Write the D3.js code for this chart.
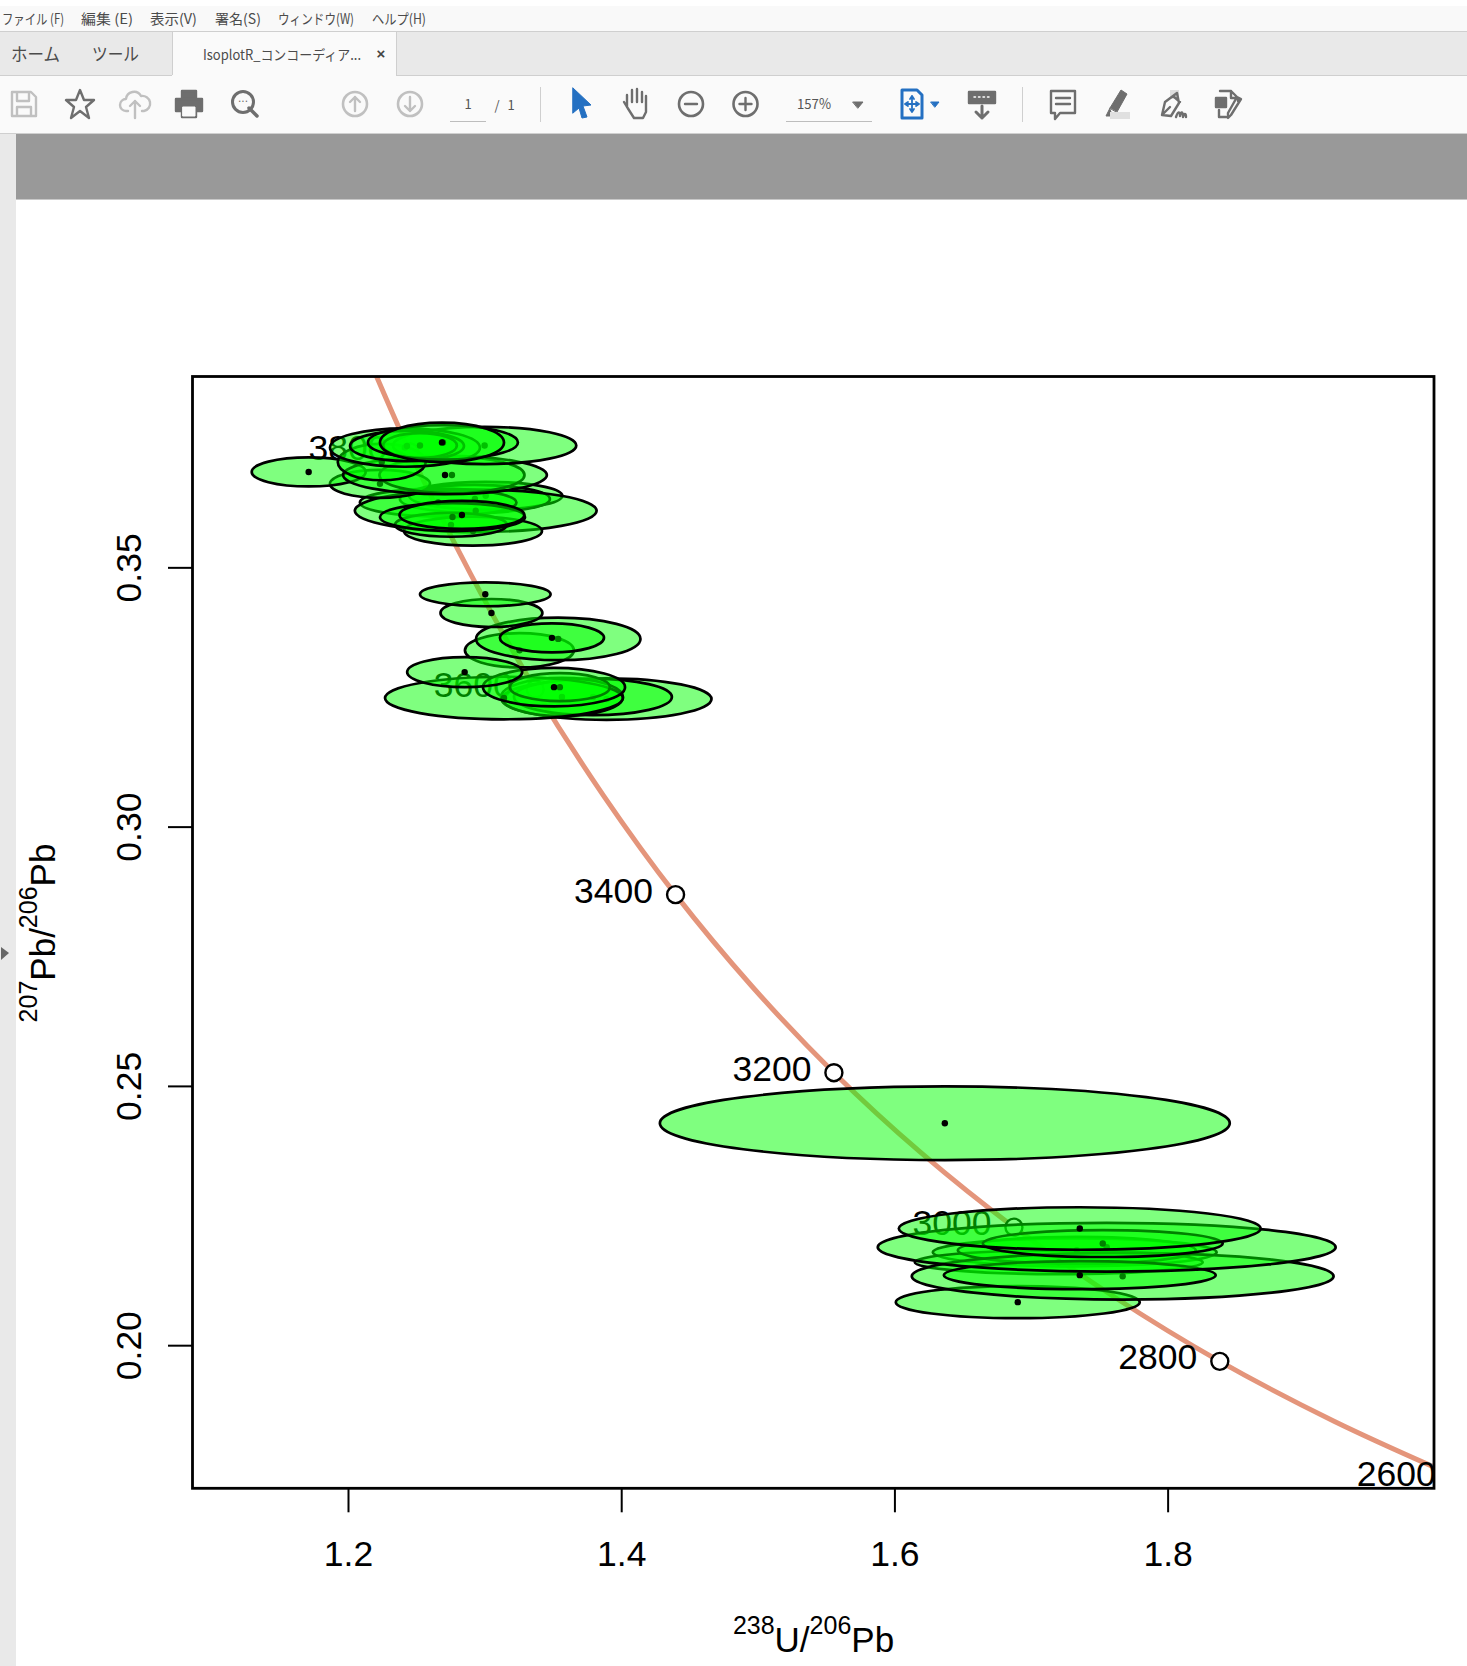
<!DOCTYPE html>
<html><head><meta charset="utf-8">
<script src="https://cdn.jsdelivr.net/npm/d3@7"></script>
<style>html,body{margin:0;padding:0;background:#fff;overflow:hidden}svg{display:block}</style>
</head><body><svg id="c" width="1467" height="1666"></svg>
<script>
// concordia line at 100 Ma steps
const curveAges=[2600,2700,2800,2900,3000,3100,3200,3300,3400,3500,3600,3700,3800,3900];
const curveX=[2.0128,1.9222,1.8382,1.7604,1.6875,1.6194,1.5557,1.4960,1.4398,1.3869,1.3370,1.2899,1.2453,1.2032];
const curveY=[.17444,.18529,.19688,.20939,.22276,.23713,.25255,.26912,.28688,.30604,.32654,.34865,.37229,.39783];
const labelledAges=[2600,2800,3000,3200,3400,3600,3800];
// error ellipses, drawing order: first = bottom
const ellX=[1.6369,
 1.6903,1.7320,1.7203,1.7335,1.7671,1.7357,1.7554,1.7525,1.7357,
 1.3255,1.3893,1.3793,1.3566,1.3142,1.3551,1.3508,1.2854,1.3539,1.3493,1.3050,1.3005,
 1.3008,1.2929,1.2660,1.2935,1.2915,1.2754,1.2765,1.2834,1.2234,1.1712,1.2761,1.2710,1.2247,1.3000,1.2417,1.2432,1.2527,1.2695,1.2688];
const ellY=[.2428,
 .2083,.2179,.2160,.2183,.2133,.2135,.2189,.2196,.2225,
 .3340,.3246,.3250,.3250,.3248,.3269,.3269,.3298,.3362,.3364,.3412,.3448,
 .3638,.3632,.3625,.3609,.3570,.3582,.3597,.3601,.3661,.3684,.3678,.3678,.3703,.3735,.3731,.3734,.3735,.3741,.3741];
const ellSX=[.2086,
 .0893,.1039,.1054,.0871,.1544,.0995,.1676,.0878,.1325,
 .0399,.0768,.0578,.0446,.0871,.0366,.0520,.0421,.0602,.0381,.0373,.0478,
 .0561,.0549,.0573,.0885,.0505,.0410,.0531,.0457,.0366,.0417,.0531,.0746,.0322,.0671,.0549,.0417,.0270,.0549,.0454];
const ellSY=[.0071,
 .0031,.0027,.0023,.0026,.0045,.0027,.0047,.0026,.0041,
 .0033,.0040,.0035,.0037,.0041,.0027,.0037,.0029,.0041,.0028,.0027,.0023,
 .0027,.0027,.0027,.0041,.0028,.0023,.0027,.0027,.0027,.0028,.0035,.0037,.0035,.0036,.0037,.0029,.0024,.0033,.0038];
const xTicks=[1.2,1.4,1.6,1.8], yTicks=[.20,.25,.30,.35];
const menuItems=[["ファイル (F)",2,62],["編集 (E)",81,52],["表示(V)",150,47],["署名(S)",215,46],["ウィンドウ(W)",278,76],["ヘルプ(H)",372,54]];

const svg=d3.select("#c");
const FONT="'Liberation Sans',Arial,sans-serif", JP="'Noto Sans CJK JP','Noto Sans',sans-serif";

/* ---------- viewer chrome ---------- */
const ch=svg.append("g");
const R=(x,y,w,h,f)=>ch.append("rect").attr("x",x).attr("y",y).attr("width",w).attr("height",h).attr("fill",f);
R(0,6,1467,25,"#f9f9f9");R(0,31,1467,1,"#cfcfcf");R(0,32,1467,43,"#e9e9e9");R(0,75,1467,1,"#cfcfcf");
R(0,76,1467,57,"#fafafa");R(0,133,1467,1,"#cfcfcf");R(0,134,16,1532,"#e9e9e9");R(16,134,1451,65,"#999999");R(16,199,1451,1,"#c8c8c8");
R(172,32,224,44,"#fafafa");R(172,32,1,43,"#cfcfcf");R(396,32,1,43,"#cfcfcf");
ch.append("path").attr("d","M1 947l8 6-8 7z").attr("fill","#666");
const T=(s,x,y,sz,w,col,anchor)=>{const t=ch.append("text").text(s).attr("x",x).attr("y",y).attr("font-family",JP).attr("font-size",sz).attr("fill",col||"#4b4b4b");
  if(anchor)t.attr("text-anchor",anchor); if(w)t.attr("textLength",w).attr("lengthAdjust","spacingAndGlyphs");return t;};
menuItems.forEach(d=>T(d[0],d[1],24,14,d[2]));
T("ホーム",11,61,18,49);T("ツール",92,61,18,47);T("IsoplotR_コンコーディア...",203,60,14,158);
T("×",381,59,15,0,"#444","middle").attr("font-family",FONT).attr("font-weight","bold");
T("1",468,109,13,0,"#555","middle");T("/",497,110,13,0,"#555","middle");T("1",511,110,13,0,"#555","middle");T("157%",797,109,14,34,"#555");
R(450,121,36,1,"#bdbdbd");R(786,121,86,1,"#bdbdbd");R(540,87,1,35,"#cfcfcf");R(1022,87,1,35,"#cfcfcf");
const G="#6e6e6e",L="#c0c0c0",B="#2470c2";
const P=(d,cx,cy,st,fill,sw)=>ch.append("path").attr("d",d).attr("transform",`translate(${cx},${cy})`).attr("fill",fill||"none").attr("stroke",st||"none").attr("stroke-width",sw||2.4).attr("stroke-linejoin","round").attr("stroke-linecap","round");
const C=(cx,cy,r,st,sw)=>ch.append("circle").attr("cx",cx).attr("cy",cy).attr("r",r).attr("fill","none").attr("stroke",st).attr("stroke-width",sw||2.6);
P("M-12-12H7L12-7V12H-12ZM-7-12V-3H5V-12M-7 12V3H7V12",24,104,L);
P("M0-14L4-4 14-4 6 3 9 14 0 7-9 14-6 3-14-4-4-4Z",80,104,G);
P("M-7 7H-9A6 6 0 0 1-9-5 8 8 0 0 1 6-8 7 7 0 0 1 9 7H7M0 14V-3M-5 2L0-3 5 2",135,104,L);
P("M-7-5V-13H7V-5M-13-5H13V7H7V13H-7V7H-13Z",189,104,G,G);P("M-6 3H6V12H-6Z",189,104,"#fafafa","#fafafa",1);
P("M6 6L14 14",243,102,G,null,3.5);C(243,102,10.5,G,3);
ch.append("text").text("...").attr("x",243).attr("y",102).attr("text-anchor","middle").attr("font-size",12).attr("fill",G).attr("font-family",FONT);
C(355,104,12,L);P("M0 7V-7M-5-2L0-7 5-2",355,104,L);
C(410,104,12,L);P("M0-7V7M-5 2L0 7 5 2",410,104,L);
P("M-8-15L10 2 2 3 6 14 1 15-2 5-8 10Z",581,103,B,B,1);
P("M-9 3L-12-2M-9 3V-9M-4-2V-14M1-2V-15M6-2V-12M10 0V-8M-9 3L-2 14H7L10 8V0",636,104,G);
C(691,104,12,G);P("M-6 0H6",691,104,G);
C(745.5,104,12,G);P("M-6 0H6M0-6V6",745.5,104,G);
P("M-5-2H5L0 4Z",858,104,G,G,1);
P("M-10-14H5L10-9V14H-10Z",912,104,B,null,3);P("M0-8V8M-7 0H7M-2-5L0-8 2-5M-2 5L0 8 2 5M-4-2L-7 0-4 2M4-2L7 0 4 2",912,104,B,null,1.8);
P("M-4-2H4L0 3Z",935,104,B,B,1);
P("M-13-12H13V-1H-13Z",982,104,G,G);P("M-8-7H8",982,104,"#fff","#fff",1.5).attr("stroke-dasharray","1.5 3");P("M0 2V14M-6 8L0 14 6 8",982,104,G,null,3);
P("M-12-13H12V9H-3L-8 15V9H-12ZM-7-6H7M-7 0H7",1063,104,G);
P("M-8 5L3-13 9-9-1 9ZM-8 5L-12 13H-5",1118,103,G,G,1);R(1110,112,20,7,"#e0e0e0");
R(1170,90,9,9,"#dddddd");
P("M4-11L-8-2-11 11-2 12 6-1ZM-11 11L-3 3M0-8L7-2M3 13C5 7 7 7 7 12 8 7 10 7 10 13 11 9 13 9 13 13",1173,104,G);
P("M-12-6H-2V3H-12Z",1228,104,G,G);P("M-8-13H3L10-6V-3M3-13V-6H10M-9 6V13H-2M13-5L3 11 0 14 0 9 9-7Z",1228,104,G);

/* ---------- chart ---------- */
const x=d3.scaleLinear().domain([1.0858,1.9950]).range([192,1434]);
const y=d3.scaleLinear().domain([.1724,.3869]).range([1488.3,376]);
svg.append("defs").append("clipPath").attr("id","plot").append("rect")
  .attr("x",x.range()[0]).attr("y",y.range()[1]).attr("width",x.range()[1]-x.range()[0]).attr("height",y.range()[0]-y.range()[1]);
const plot=svg.append("g").attr("clip-path","url(#plot)");
const pts=curveAges.map((a,i)=>({age:a,x:curveX[i],y:curveY[i]}));
plot.append("path").datum(pts).attr("fill","none").attr("stroke","#e4957b").attr("stroke-width",5)
  .attr("d",d3.line().x(d=>x(d.x)).y(d=>y(d.y)).curve(d3.curveCatmullRom.alpha(.5)));
const lab=pts.filter(d=>labelledAges.includes(d.age));
plot.selectAll("circle.age").data(lab).join("circle").attr("class","age").attr("cx",d=>x(d.x)).attr("cy",d=>y(d.y)).attr("r",8.5)
  .attr("fill","#fff").attr("stroke","#000").attr("stroke-width",2.4);
plot.selectAll("text.age").data(lab).join("text").attr("class","age").text(d=>d.age)
  .attr("x",d=>x(d.x)-22.5).attr("y",d=>y(d.y)+8).attr("text-anchor","end").attr("font-family",FONT).attr("font-size",35.5).attr("fill","#000");
const ell=plot.selectAll("g.e").data(ellX.map((v,i)=>({x:v,y:ellY[i],sx:ellSX[i],sy:ellSY[i]}))).join("g").attr("class","e");
ell.append("ellipse").attr("cx",d=>x(d.x)).attr("cy",d=>y(d.y)).attr("rx",d=>x(d.x+d.sx)-x(d.x)).attr("ry",d=>y(d.y-d.sy)-y(d.y))
  .attr("fill","#00ff00").attr("fill-opacity",.5).attr("stroke","#000").attr("stroke-width",2.7);
ell.append("circle").attr("cx",d=>x(d.x)).attr("cy",d=>y(d.y)).attr("r",3.2).attr("fill","#000");

svg.append("rect").attr("x",192.5).attr("y",376.5).attr("width",1241.5).attr("height",1111.8).attr("fill","none").attr("stroke","#000").attr("stroke-width",2.8);
const ax=svg.append("g").attr("transform","translate(0,1488.3)").call(d3.axisBottom(x).tickValues(xTicks).tickFormat(d3.format(".1f")).tickSizeOuter(0).tickSize(24).tickPadding(24));
const ay=svg.append("g").attr("transform","translate(192,0)").call(d3.axisLeft(y).tickValues(yTicks).tickFormat(d3.format(".2f")).tickSizeOuter(0).tickSize(24).tickPadding(28));
ax.select(".domain").remove();ay.select(".domain").remove();
[ax,ay].forEach(a=>{a.selectAll("line").attr("stroke","#000").attr("stroke-width",2);a.selectAll("text").attr("font-family",FONT).attr("font-size",35.5).attr("fill","#000");});
ax.selectAll("text").attr("dy",null).attr("x",0).attr("y",78);
ay.selectAll("text").attr("x",null).attr("dy",null).attr("text-anchor","middle").attr("transform","translate(-51,0) rotate(-90)");

function title(sel,parts){parts.forEach(p=>{const s=sel.append("tspan").text(p[0]).attr("font-size",p[1]?25:35);s.attr("dy",p[1]?-18:(p[2]?18:0));});}
const tx=svg.append("text").attr("x",813.5).attr("y",1651.5).attr("text-anchor","middle").attr("font-family",FONT).attr("fill","#000");
title(tx,[["238",1],["U/",0,1],["206",1],["Pb",0,1]]);
const ty=svg.append("text").attr("transform","translate(55,933) rotate(-90)").attr("text-anchor","middle").attr("font-family",FONT).attr("fill","#000");
title(ty,[["207",1],["Pb/",0,1],["206",1],["Pb",0,1]]);
</script></body></html>
